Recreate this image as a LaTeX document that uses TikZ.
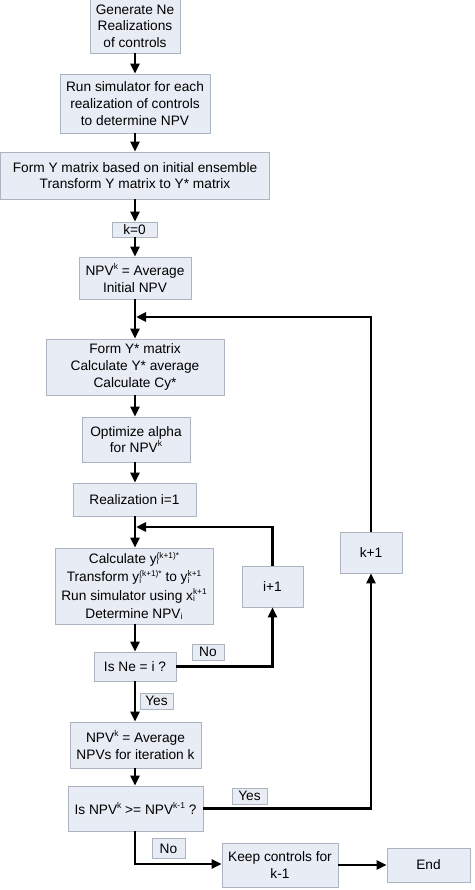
\documentclass[tikz,border=0pt]{standalone}
\usepackage{fontspec}
\setmainfont{Liberation Sans}
\usetikzlibrary{arrows.meta}
\definecolor{boxfill}{RGB}{232,236,244}
\definecolor{boxborder}{RGB}{172,180,192}
\newcommand{\fs}{\fontsize{13.7}{16.7}\selectfont}
\newcommand{\fsc}{\fontsize{13.7}{18.2}\selectfont}
\newcommand{\SubSup}[2]{\makebox[0pt][l]{\raisebox{-0.08em}{\fontsize{8.3}{8.3}\selectfont #1}}\raisebox{0.4em}{\fontsize{8.3}{8.3}\selectfont #2}}
\newcommand{\Sp}[1]{\raisebox{0.42em}{\fontsize{8.5}{8.5}\selectfont #1}}
\newcommand{\Sb}[1]{\raisebox{-0.1em}{\fontsize{8.5}{8.5}\selectfont #1}}
\begin{document}
\begin{tikzpicture}[x=1pt,y=-1pt,
  box/.style={draw=boxborder, fill=boxfill, line width=0.9pt, inner sep=0pt, align=center, font=\fs},
  lbl/.style={box, font=\fs},
  conn/.style={line width=2.6pt, line join=miter, -{Triangle[length=10pt,width=9pt]}}]
\useasboundingbox (0,0) rectangle (474,890);
\node[box, minimum width=90pt, minimum height=54pt] (gen) at (135,26) {Generate Ne\\Realizations\\of controls};
\node[box, minimum width=150pt, minimum height=59pt] (run) at (135,103.5) {Run simulator for each\\realization of controls\\to determine NPV};
\node[box, minimum width=269pt, minimum height=47pt] (formy) at (135,175.5) {Form Y matrix based on initial ensemble\\Transform Y matrix to Y* matrix};
\node[box, minimum width=45pt, minimum height=15pt] (k0) at (134.5,229.5) {k=0};
\node[box, minimum width=112pt, minimum height=42pt] (npv0) at (135,278) {NPV\Sp{k} = Average\\Initial NPV};
\node[box, minimum width=178pt, minimum height=56pt] (formys) at (135,367) {Form Y* matrix\\Calculate Y* average\\Calculate Cy*};
\node[box, minimum width=108pt, minimum height=45pt] (opt) at (136,439.5) {Optimize alpha\\for NPV\Sp{k}};
\node[box, minimum width=123pt, minimum height=33pt] (real) at (134.5,499.5) {Realization i=1};
\node[box, font=\fsc, minimum width=158pt, minimum height=76pt] (calc) at (134,586) {Calculate y\SubSup{i}{(k+1)*}\\Transform y\SubSup{i}{(k+1)*} to y\SubSup{i}{k+1}\\Run simulator using x\SubSup{i}{k+1}\\Determine NPV\Sb{i}};
\node[box, minimum width=61pt, minimum height=41pt] (ip1) at (272.5,586.5) {i+1};
\node[box, minimum width=62pt, minimum height=41pt] (kp1) at (371,552.5) {k+1};
\node[box, minimum width=82pt, minimum height=29pt] (isne) at (135,666.5) {Is Ne = i ?};
\node[lbl, minimum width=32pt, minimum height=16pt] (no1) at (208,652) {No};
\node[lbl, minimum width=33pt, minimum height=16pt] (yes1) at (156.5,701) {Yes};
\node[box, minimum width=131pt, minimum height=46pt] (npvk) at (135.5,745) {NPV\Sp{k} = Average\\NPVs for iteration k};
\node[box, minimum width=135pt, minimum height=45pt] (isnpv) at (135.5,808.5) {Is NPV\Sp{k} >= NPV\Sp{k-1} ?};
\node[lbl, minimum width=35pt, minimum height=16pt] (yes2) at (249.5,796) {Yes};
\node[lbl, minimum width=33pt, minimum height=20pt] (no2) at (168.5,848.5) {No};
\node[box, minimum width=116pt, minimum height=44pt] (keep) at (280,865) {Keep controls for\\k-1};
\node[box, minimum width=83pt, minimum height=34pt] (end) at (428.5,865) {End};
\coordinate (m1) at (135,317);
\coordinate (m2) at (135,527);
\coordinate (m3) at (135,864);
\draw[conn] (gen.south -| 135,0) -- (run.north -| 135,0);
\draw[conn] (run.south -| 135,0) -- (formy.north -| 135,0);
\draw[conn] (formy.south -| 135,0) -- (k0.north -| 135,0);
\draw[conn] (k0.south -| 135,0) -- (npv0.north -| 135,0);
\draw[conn] (npv0.south -| 135,0) -- (formys.north -| 135,0);
\draw[conn] (kp1.north) |- ([xshift=1pt]m1);
\draw[conn] (formys.south -| 135,0) -- (opt.north -| 135,0);
\draw[conn] (opt.south -| 135,0) -- (real.north -| 135,0);
\draw[conn] (real.south -| 135,0) -- (calc.north -| 135,0);
\draw[conn] (ip1.north) |- ([xshift=1pt]m2);
\draw[conn] (calc.south -| 135,0) -- (isne.north -| 135,0);
\draw[conn] (isne.east) -| (ip1.south);
\draw[conn] (isne.south -| 135,0) -- (npvk.north -| 135,0);
\draw[conn] (npvk.south -| 135,0) -- (isnpv.north -| 135,0);
\draw[conn] (isnpv.east) -| (kp1.south);
\draw[conn] (isnpv.south -| 135,0) -- (m3) -- (keep.west |- m3);
\draw[conn] (keep.east) -- (end.west);
\end{tikzpicture}
\end{document}
